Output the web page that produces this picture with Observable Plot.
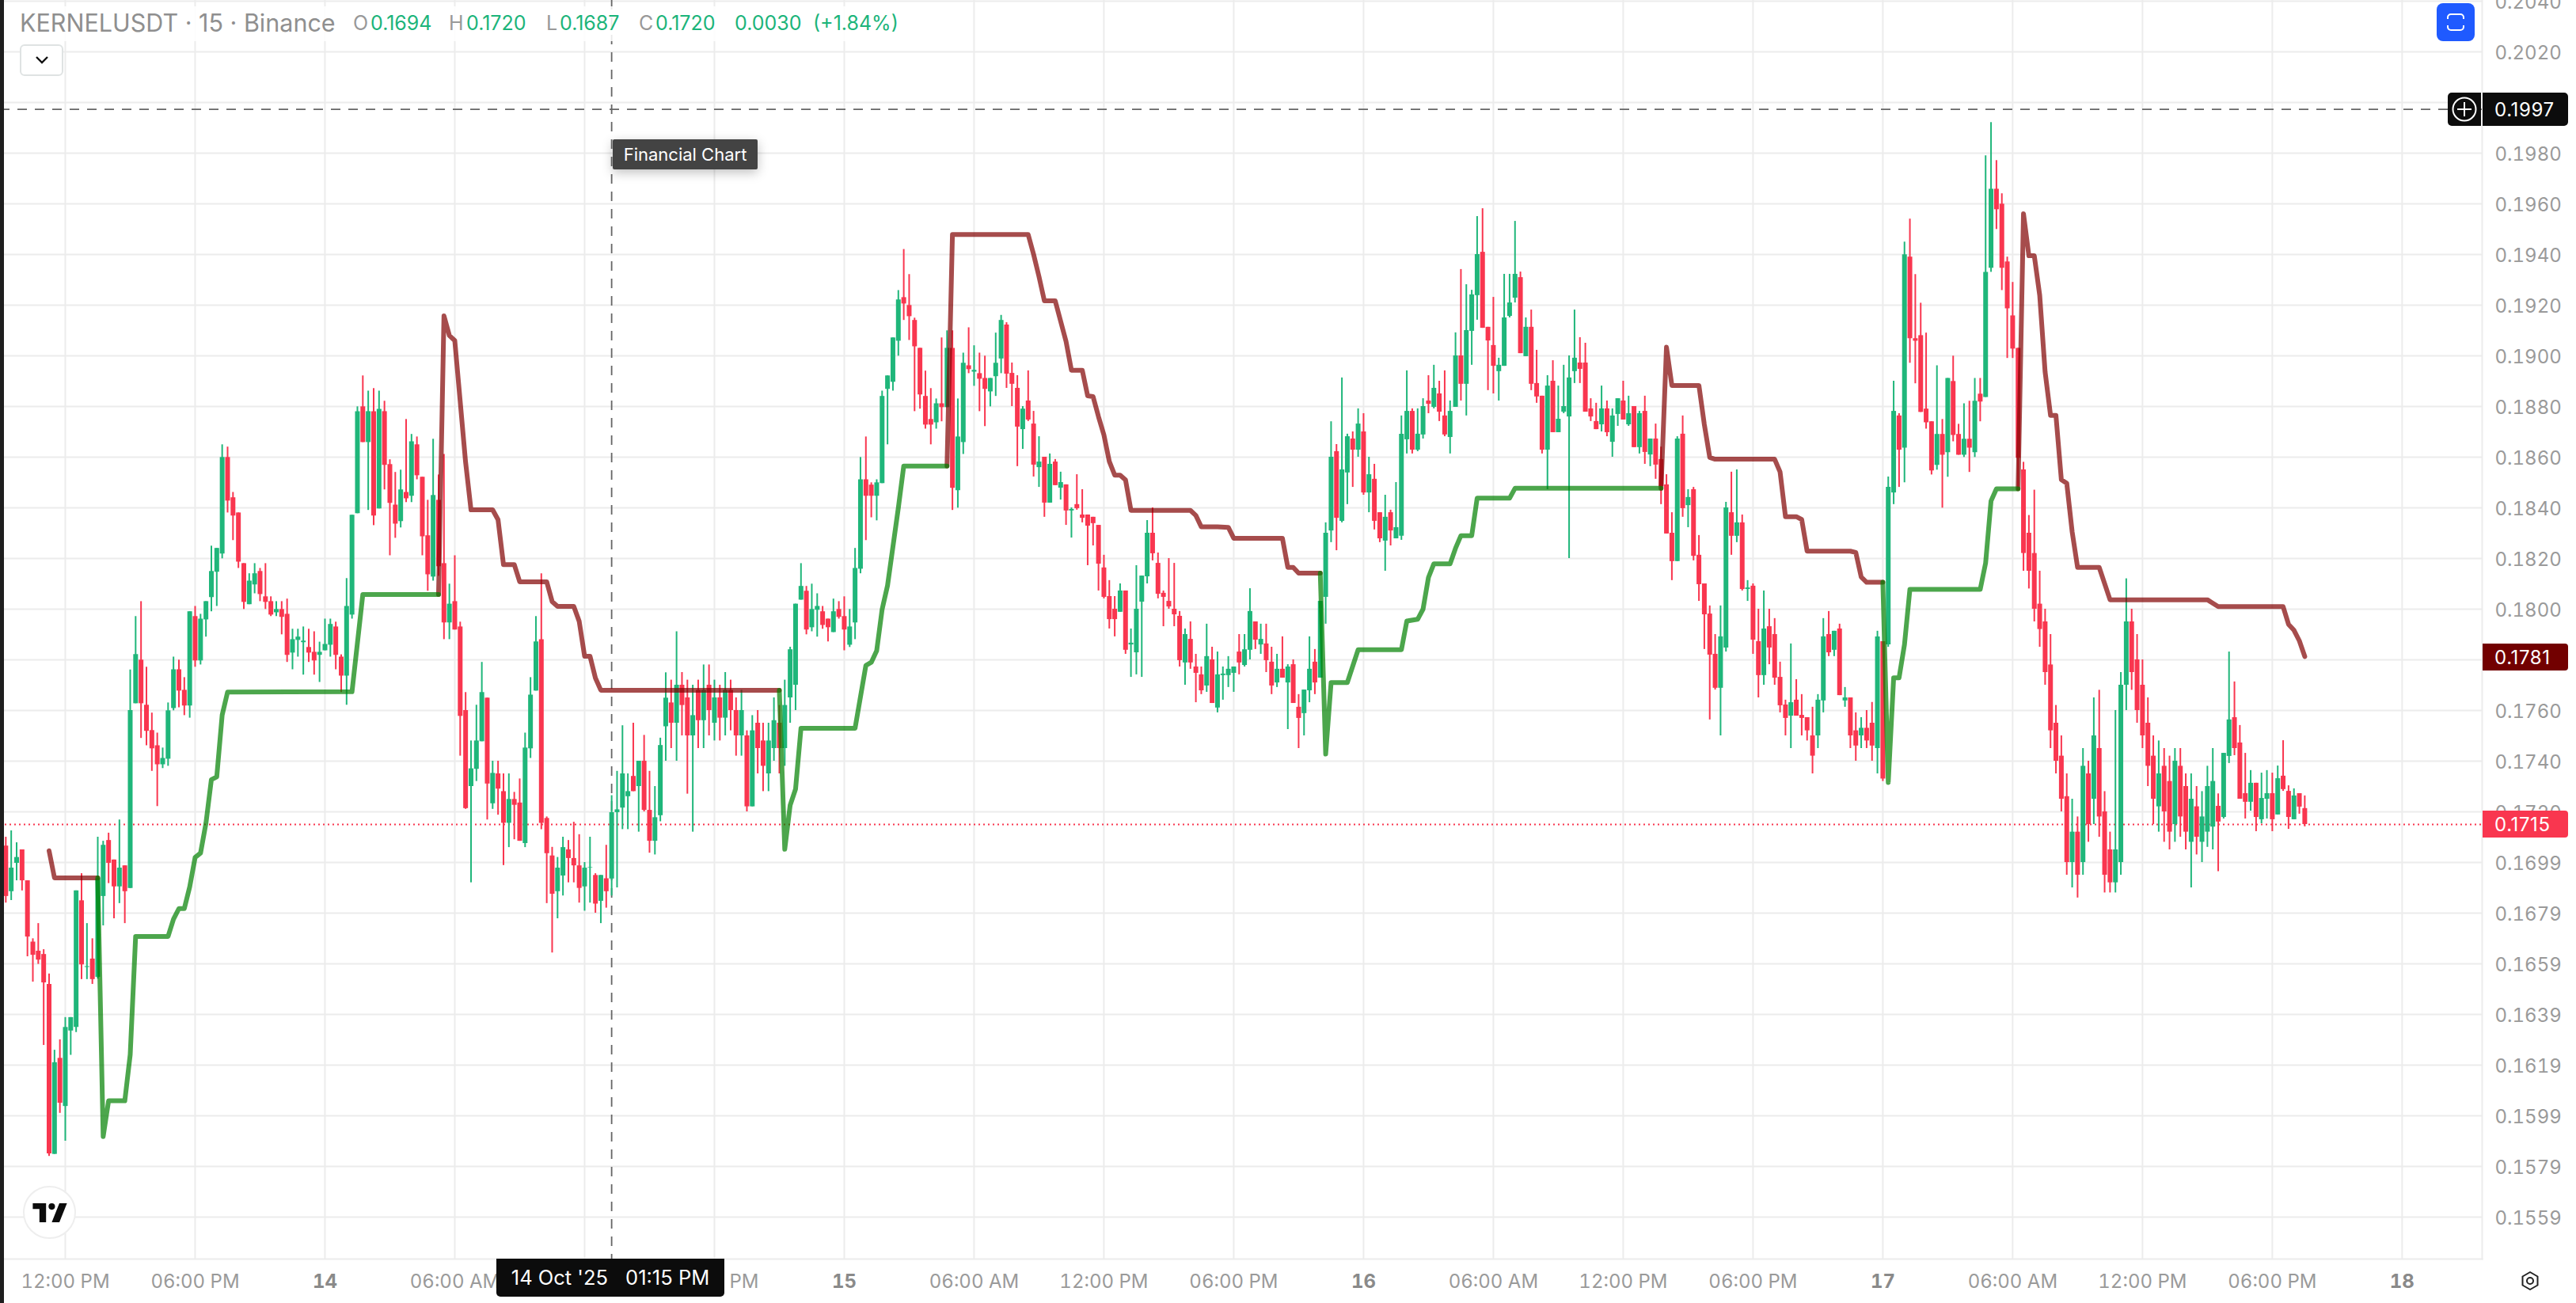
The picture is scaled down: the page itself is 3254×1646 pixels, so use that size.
<!DOCTYPE html>
<html>
<head>
<meta charset="utf-8">
<script src="https://cdn.jsdelivr.net/npm/d3@7"></script>
<script src="https://cdn.jsdelivr.net/npm/@observablehq/plot@0.6"></script>
<style>
html,body{margin:0;padding:0;background:#fff}
#wrap{position:relative;width:3254px;height:1646px;overflow:hidden;font-family:Inter,sans-serif}
#wrap svg{display:block}
.ov{position:absolute;white-space:nowrap;line-height:1}
.tag{position:absolute;color:#fff;font-size:24px;display:flex;align-items:center;letter-spacing:.6px}
</style>
</head>
<body>
<div id="wrap"></div>
<script>
// Prices in units of 0.0001, one entry per 15-minute bar, first bar 13 Oct 2025 09:15
const opens = [
1706.5,1688.5,1699.7,1705,1692.8,1668.6,1665,1663.7,1651.9,1584.8,
1622.7,1603.7,1633.5,1634.9,1684.9,1658.6,1661.9,1654.7,1686.6,1708.7,
1701,1690.4,1698.7,1689.8,1762.7,1779.9,1762.1,1752.1,1746.1,1738.6,
1740.8,1760.8,1776.1,1768,1761.8,1797.1,1779.6,1795.8,1804.6,1814.6,
1821.8,1859.9,1844,1838,1818,1801.8,1809.6,1814.9,1804.9,1803,
1798.6,1799.9,1798,1782.7,1787.7,1786.8,1784.9,1783,1781.8,1783.6,
1785.8,1793,1781.1,1773.6,1797.7,1837.7,1879.9,1865.8,1878,1839.6,
1878,1857.1,1841.1,1834.6,1846.1,1844.6,1864.9,1852.1,1829,1812.7,
1843,1818,1794.6,1803,1793,1760,1730,1736.8,1747.7,1764.9,
1723.2,1735,1728,1715.5,1724.9,1723.5,1707.5,1744.9,1767.7,1788,
1717.4,1702.6,1688.5,1694.7,1705,1701.6,1698.7,1690.4,1697.8,1694.9,
1684.7,1693.6,1693.5,1719.7,1721.5,1726,1734,1730,1740,1720.6,
1708.4,1718.5,1753.6,1763,1755,1770,1765,1750,1768,1756,
1770,1755,1765,1757,1768,1760,1750,1750,1722,1755,
1748,1735,1745,1755,1745,1765,1770,1803.6,1807.1,1792.7,
1799.6,1799,1796.1,1790.8,1799.9,1797.1,1785.8,1794.6,1815.8,1851.1,
1849,1844.6,1849.6,1886.8,1889.6,1905.8,1923,1919.9,1914,1903,
1884,1874.9,1873.6,1881.1,1879.6,1903,1846.8,1865.8,1896.1,1893.6,
1893,1891.1,1885.8,1891.8,1898.8,1912.2,1893.1,1887.2,1870.9,1882.2,
1873.1,1855.9,1860,1841.9,1858.1,1847.8,1849.1,1838.8,1841.3,1837.2,
1837.2,1836.3,1833.1,1816.3,1805,1800,1798.8,1807.2,1785.9,1782.8,
1802.8,1812.8,1830,1818.1,1806.3,1803.1,1800,1797.2,1778.8,1788.1,
1777.2,1774.1,1769.7,1780,1761,1773.8,1773.8,1774.7,1783.1,1777.8,
1783.8,1795,1785.9,1786.3,1779.1,1770.9,1776.3,1770.9,1778.1,1761.3,
1758.8,1767.8,1779.1,1772.8,1804.7,1830.9,1862.2,1834.7,1853.8,1867.2,
1862.8,1870,1845.9,1851.3,1838.1,1826.9,1838.1,1827.8,1828.8,1866.9,
1878.1,1862.8,1868.8,1882.2,1879.7,1885,1876.3,1867.8,1879.7,1900,
1888.8,1909.7,1923.8,1940.9,1911.3,1904.1,1893.8,1895.9,1915.6,1922.8,
1930.9,1899.7,1911.3,1889.1,1884.1,1862.8,1890,1869.7,1877.8,1875.9,
1893.8,1897.2,1897.2,1879.1,1874.1,1872.8,1879.1,1865.9,1876.9,1882.2,
1872.8,1880,1863.8,1878.1,1860.9,1867.2,1859.1,1849.1,1830,1818.8,
1869.1,1840.9,1847.2,1821.3,1810,1798.1,1782.2,1768.8,1784.7,1838.1,
1828.8,1834.1,1807.8,1809.1,1787.2,1773.8,1793.1,1790,1773.1,1762.2,
1757.8,1764.1,1758.1,1757.2,1750,1750,1763.8,1790,1783.8,1792.2,
1763.8,1765,1752,1750,1753,1755,1745,1787.2,1785.9,1845.9,
1876.3,1863.6,1939,1906.8,1908,1879,1874,1856.8,1869,1861.8,
1889.9,1869,1860.8,1867.1,1861.8,1884.9,1883.6,1934.6,1965.8,1959.9,
1937.1,1915.8,1903,1855,1830,1822,1802,1795,1778,1755,
1742,1726,1700,1712,1700,1735,1725,1745,1720,1705,
1692,1700,1770,1795,1780,1770,1755,1742,1722,1738,
1732,1715,1738,1730,1708,1722,1708,1712,1714,1722.2,
1717.8,1741.9,1757.2,1747.2,1727.2,1723.8,1731.3,1716.9,1725,1727.2,
1718.8,1734.1,1728.1,1716.9,1727.2,1721.3];
const highs = [
1710,1712.5,1707.8,1705,1692.8,1669.9,1675.9,1665.6,1656,1625.9,
1630,1638.8,1638.8,1688.8,1695.6,1675.9,1669.9,1710,1708.4,1711.6,
1701,1716.8,1698.7,1776,1797.1,1803,1777.1,1759,1751.1,1745.2,
1763,1781.1,1779.9,1773,1799,1801.1,1798,1803,1824.9,1824,
1864.9,1864,1846.1,1838,1818,1814,1818,1816.1,1818,1804.9,
1803,1803,1804,1792.1,1792.1,1793,1792.1,1791.1,1787,1796.1,
1796.1,1794.9,1782,1812.1,1837.1,1879.9,1892.1,1886.1,1887.1,1886.1,
1882.1,1859,1854,1854.9,1874.9,1869,1868,1852.1,1843,1867.1,
1853,1861.1,1809.9,1821.1,1794.9,1767.1,1748,1762.1,1779,1764.9,
1740,1740,1735,1735,1727.7,1733,1751.1,1773,1797.1,1814,
1718,1706,1702,1710,1708.7,1715.9,1711,1700,1710,1695.6,
1694.9,1706.8,1726.4,1736,1754,1735,1755,1740,1750.2,1736,
1730,1749.1,1774.9,1772,1791.1,1775,1772,1770,1772,1778,
1778,1772,1770,1775,1772,1765,1768,1752,1758,1760,
1755,1755,1765,1762,1772,1785,1802,1818,1809,1809.9,
1806.1,1801.1,1796.1,1804,1803,1804.9,1799.9,1824,1859.9,1868,
1849.9,1851.1,1886.1,1892.1,1907.1,1925.8,1942,1932.1,1914.9,1903,
1894,1887.1,1883,1907.1,1909.9,1909.9,1883,1901.1,1911.1,1904,
1901.1,1899.9,1891.1,1909,1916,1913.1,1897.2,1892.2,1880,1894.1,
1878.1,1868.1,1860,1861.3,1859.1,1854.1,1849.1,1840,1853.1,1847.2,
1837.2,1836.3,1833.1,1821.3,1811.3,1805,1810,1807.2,1792.2,1817.2,
1813.1,1835,1840,1822.2,1807.2,1820,1818.1,1799.1,1792.2,1795,
1782.2,1777.2,1794.1,1785,1783.1,1777.2,1781.3,1777.2,1790,1790,
1808.1,1795,1794.1,1794.1,1785,1782.2,1789.1,1778.1,1780,1766.3,
1768.1,1789.1,1784.1,1803.1,1834.1,1874,1865,1891.3,1869.1,1870,
1879.1,1877.2,1860,1857.2,1838.1,1845,1839.1,1850,1876.3,1894.1,
1879.1,1879.1,1883.1,1892.2,1896.3,1890,1894.1,1882.2,1909.1,1934.1,
1928.1,1925.9,1955,1958.1,1911.3,1923.1,1899.1,1932.2,1932.2,1953.1,
1933.1,1915,1918.1,1902.2,1884.1,1892.2,1898.1,1888.1,1896.3,1900,
1918.1,1907.2,1905,1883.1,1881.3,1888.1,1882.2,1879.1,1883.1,1890,
1884.1,1880,1878.1,1884.1,1867.2,1873.1,1864,1853.1,1838.1,1868.1,
1876.3,1847.2,1848.1,1829.1,1810,1801.3,1790,1801.3,1842.2,1854.1,
1855,1837.2,1811.3,1810,1800,1807.2,1800,1796.3,1779.1,1764.1,
1786.3,1772.2,1766.3,1757.2,1761.3,1766.3,1796.3,1799.1,1791.3,1794.1,
1769.1,1765,1759.1,1757.2,1760,1763.2,1791.3,1787.2,1852.2,1890,
1877.2,1944.9,1954,1932.1,1920.8,1909,1874,1896.1,1874.9,1891.1,
1899.9,1873,1881.1,1882.1,1891.1,1891.1,1979,1992.1,1977.1,1964,
1939,1929,1903,1858,1837,1847,1815,1800,1790,1762,
1750,1735,1725,1718,1745,1740,1765,1768,1728,1712,
1760,1775,1812,1800,1790,1780,1765,1750,1748,1745,
1742,1745,1745,1735,1735,1730,1728,1738,1745,1727.1,
1743.1,1783.1,1771.3,1754.1,1743.1,1736.3,1731.3,1735.3,1736.3,1735.3,
1738.1,1748.1,1730.3,1729.1,1727.2,1726.3];
const lows = [
1684,1685,1692.8,1688.8,1662.8,1652.8,1659.8,1627.8,1584,1584.8,
1601,1590,1623.9,1632.9,1653.8,1653.8,1651.9,1654,1675,1691.7,
1677.8,1683.8,1675.9,1689.8,1762.7,1749,1746.1,1736,1722.1,1737.1,
1738,1759.9,1761.1,1758,1757,1777.1,1778,1789,1799,1801.1,
1819.9,1838,1827.1,1816.1,1799.9,1801.8,1806.1,1803,1799.9,1797.1,
1797.1,1789.9,1779,1776.1,1781.1,1774,1779,1774,1771.1,1783.6,
1781.1,1776.1,1767.1,1762.1,1796.1,1837.7,1865.8,1839,1833,1839.6,
1847.1,1821.1,1828,1832.1,1842.1,1842.1,1851.1,1821.1,1807.1,1811.1,
1813,1788,1788,1791.8,1742,1721,1692,1732,1747.7,1716.8,
1721,1718.7,1698.8,1705.9,1709,1708.4,1705.9,1741.1,1767.7,1713,
1683.8,1664.3,1677.8,1686.8,1692,1692,1684,1680.8,1684,1680,
1675.9,1682,1686.8,1690,1713,1713,1728,1712,1720,1703.7,
1703,1716.1,1740,1745,1740,1750,1727,1712,1745,1745,
1750,1748,1748,1750,1752,1742,1742,1720,1722,1735,
1728,1728,1740,1735,1738,1755,1760,1803.6,1789.9,1791.1,
1789,1792.1,1787.1,1790.8,1796.1,1783.6,1784.9,1788,1814,1827.1,
1836.1,1834.9,1849.6,1864.9,1886.1,1899.9,1914,1906.1,1878,1879,
1871.1,1864.9,1871.1,1874,1879.6,1839,1839.9,1861.1,1893,1888,
1878,1872.1,1879.9,1884,1893,1887.2,1880,1856.3,1863.1,1874.1,
1852.2,1848.1,1836.3,1841.9,1848.8,1843.1,1833.1,1828.1,1839.1,1834.1,
1817.2,1825,1807.2,1804.1,1792.2,1789.1,1798.8,1782.2,1773.1,1774.1,
1773.1,1810,1819.1,1804.1,1793.1,1800,1793.1,1777.2,1770,1776.3,
1763.1,1766.3,1767.2,1762.8,1759.1,1764.1,1769.1,1767.2,1774.1,1777.2,
1780,1784.1,1782.2,1775,1766.3,1769.1,1772.8,1752.5,1762.8,1745,
1750,1763.1,1766.3,1772.8,1794.1,1826.3,1823.1,1834.1,1841.3,1848.1,
1860,1845,1838.1,1831.3,1826.3,1815,1825,1827.8,1827.2,1861.3,
1861.3,1862.2,1867.2,1877.2,1879.1,1874.1,1868.1,1861.3,1879.7,1882.2,
1876.3,1896.3,1914.1,1910.9,1886.3,1885,1882.2,1895.9,1915,1920.9,
1900.9,1899.7,1886.3,1881.3,1861.3,1847.2,1869.7,1869.7,1877.2,1820,
1889.1,1889.1,1877.8,1874.1,1870.9,1870,1868.1,1860,1872.2,1874.7,
1872.2,1863.8,1861.3,1857.2,1856.3,1851.3,1841.3,1829.7,1811.3,1818.8,
1836.3,1832.2,1819.1,1803.1,1784.1,1756.3,1768.1,1750,1783.1,1821.3,
1826.3,1807.2,1803.1,1782.2,1765,1770,1778.1,1770,1759.1,1750,
1745,1757.8,1750,1748,1735,1745,1759.1,1781.3,1781.3,1765.9,
1761.3,1745,1740,1745,1745,1740,1735,1732,1785,1841.3,
1848.1,1849.9,1897.1,1889,1877.7,1871.1,1853,1854.9,1839.9,1852.1,
1866.1,1860.8,1859.9,1854,1859.9,1874,1883.6,1933,1949.9,1925.8,
1899,1899,1846.8,1815,1808,1795,1785,1770,1745,1735,
1720,1695,1690,1686,1695,1708,1715,1710,1688,1688,
1688,1695,1760,1768,1755,1745,1730,1715,1712,1708,
1705,1708,1710,1705,1690,1703,1700,1706,1705,1696.4,
1717.2,1739.1,1742.2,1725,1717.2,1720.3,1712.2,1715.3,1717.2,1712.2,
1718.8,1728.1,1713.1,1716.9,1719.1,1714.1];
const closes = [
1686.6,1697.8,1702,1692.8,1670.6,1663.4,1661.5,1652.5,1585,1621,
1605,1634.9,1638.8,1688.8,1659.6,1658.9,1653.8,1693.6,1706.8,1699.7,
1690.4,1697.8,1688.5,1760,1782.1,1762.7,1751.8,1744.9,1738.6,1741.1,
1759.9,1776.1,1767.7,1761.8,1799,1779.6,1796.1,1803,1814.9,1824,
1859.9,1842.7,1836.8,1818.6,1802.7,1811.1,1814,1805.8,1802.7,1797.7,
1799.9,1796.8,1781.8,1788,1789,1787.4,1782.7,1779.6,1783,1786.1,
1794,1781.8,1773.6,1801.1,1837.1,1878,1865.8,1878,1836.8,1878.9,
1856.8,1841.8,1833.6,1847.1,1843.6,1866.1,1852.7,1828.6,1813.6,1844.9,
1816.8,1794.6,1802,1791.8,1757.7,1721.3,1737,1748,1767.1,1731,
1735.2,1729,1715.5,1724.9,1722.6,1708.4,1745.2,1766.1,1787.1,1715.5,
1703.5,1687.5,1697.8,1705.9,1701.6,1698.7,1689.8,1697.8,1698,1683.6,
1694.9,1688.5,1719.7,1720.8,1735,1728,1728,1740,1720.6,1708.4,
1717.7,1746.2,1764.9,1755,1770,1762,1750,1758,1756,1768,
1760,1765,1757,1768,1760,1750,1760,1722,1752,1745,
1738,1748,1756,1745,1762,1784,1802,1809,1791.8,1799.9,
1801.1,1793.6,1792.7,1799,1796.8,1791.8,1793,1816.1,1851.1,1844.6,
1844.6,1849.9,1884,1892.1,1907.1,1922.1,1920.5,1915.5,1903.6,1884.6,
1872.7,1872.7,1881.1,1879.6,1903,1847.7,1868,1897.1,1894.6,1894.3,
1890.8,1886.8,1891.1,1897.1,1914,1892.8,1888.8,1871.9,1879,1874.7,
1856.9,1858.1,1841.9,1857.2,1848.8,1850,1838.8,1839.4,1839.7,1835.9,
1832.8,1833.8,1817.8,1804.7,1795.9,1795.9,1807.2,1783.8,1786.6,1800,
1813.1,1830,1821.9,1805.9,1804.7,1800.9,1797.8,1779.7,1790,1778.8,
1774.7,1767.8,1781.3,1762.8,1774.1,1774.4,1776.3,1777.2,1778.8,1784,
1799.1,1787.8,1788.1,1779.7,1769.7,1776.3,1772.8,1777.2,1762.8,1756.9,
1768.1,1776.3,1770.9,1803.1,1830,1860,1835.9,1855,1868.1,1862.8,
1873.1,1845.9,1853.1,1834.7,1827.8,1836.3,1830.9,1832.2,1869.1,1878.1,
1862.8,1869.1,1880,1880.9,1887.2,1877.8,1868.8,1878.1,1900,1888.8,
1910,1924.1,1940,1910.9,1905.9,1895.9,1896.3,1915,1920.9,1932.2,
1900.9,1911.3,1888.8,1883.8,1862.8,1888.1,1869.7,1875,1880,1891.3,
1899.1,1894.7,1877.8,1875.9,1870.9,1879.1,1869.7,1876.3,1883.1,1874.7,
1877.2,1863.8,1877.2,1861.9,1867.2,1856.9,1848.4,1829.7,1818.8,1867.2,
1839.7,1844.1,1820.9,1809.7,1797.8,1781.9,1768.8,1789.1,1840,1828.8,
1834.1,1807.8,1808.4,1787.8,1773.8,1792.2,1784.7,1772.8,1761.9,1756.9,
1763.1,1757.8,1756.9,1752,1742,1764.1,1789.1,1782.8,1791.3,1765.9,
1765,1750,1746,1753,1748,1746,1789.1,1733,1848.1,1878.1,
1862.8,1939.9,1906.8,1905.8,1877.7,1873.6,1854.6,1869,1860.8,1891.1,
1868.6,1860.8,1867.1,1863.6,1882.1,1881.8,1933,1965.8,1957.7,1934.6,
1918.6,1902.7,1859.6,1822,1815,1800,1792,1775,1752,1740,
1725,1700,1712,1695,1738,1715,1750,1718,1695,1692,
1705,1770,1795,1775,1760,1750,1738,1725,1735,1720,
1712,1740,1718,1712,1725,1710,1718,1730,1732,1716,
1743.1,1756.3,1745,1725,1723.8,1731.3,1717.8,1725.3,1727.2,1716.9,
1733.1,1728.8,1717.8,1726.3,1721.9,1715];

// Indicator vertices (bar number, price); null separates legs
const resistBars = [8,9,17,null,
80,81,82,83,84,85,86,90,91,92,94,95,100,101,102,105,106,107,108,109,110,143,null,
174,175,189,190,191,192,194,196,197,199,200,201,202,203,204,205,206,207,208,219,220,221,224,226,227,236,237,238,239,243,null,
306,307,308,313,314,315,316,327,328,329,331,332,333,341,342,343,344,347,null,
372,373,374,375,376,377,378,379,380,381,382,383,387,389,407,409,421,422,423,424,425];
const resistVals = [1704.6,1693.9,1693.9,null,
1805.8,1915.8,1908,1906,1882,1858,1839.2,1839.2,1835.3,1817.6,1817.6,1810.8,1810.8,1803,1801.1,1801.1,1795.2,1781.4,1781.4,1772.8,1768,1768,null,
1856.5,1947.9,1947.9,1940.1,1931.3,1921.7,1921.7,1905.7,1894.3,1894.3,1884.2,1883.9,1876,1868.8,1858.3,1852.9,1852.9,1851,1839,1839,1837,1832.5,1832.5,1832.3,1828,1828,1816.5,1816.5,1814.2,1814.2,null,
1847.7,1903.4,1888.3,1888.3,1872.9,1859.9,1859.2,1859.2,1854.2,1836.5,1836.5,1835.4,1822.9,1822.9,1822.4,1812.7,1810.6,1810.6,null,
1847.5,1956.1,1939.5,1939.5,1923.9,1893.6,1876.5,1876.5,1851.1,1849.7,1830.5,1816.5,1816.5,1803.7,1803.7,1801,1801,1794,1791.7,1787.5,1781.3];
const supportBars = [17,18,19,22,23,24,30,31,32,33,34,35,36,37,38,39,40,41,64,66,80,null,
143,144,145,146,147,157,159,160,161,162,163,165,166,174,null,
243,244,245,248,250,258,259,261,262,263,264,267,268,269,271,272,278,279,306,null,
347,348,349,350,351,352,365,366,367,368,372];
const supportVals = [1693.9,1591.8,1605.9,1605.9,1624.2,1670.8,1670.8,1677.6,1681.8,1681.8,1690.4,1702,1703.7,1715.5,1732.7,1733.8,1758.2,1767.3,1767.4,1805.8,1805.8,null,
1768,1705.2,1722.6,1729,1753,1753,1777.8,1779,1783.6,1799.9,1809.3,1840,1856.5,1856.5,null,
1814.2,1742.8,1771,1771,1784,1784,1795.3,1796,1800,1812.5,1817.9,1817.9,1824,1829,1829,1843.8,1843.8,1847.7,1847.7,null,
1810.6,1731.6,1772.9,1772.9,1786,1807.8,1807.8,1818.2,1842.7,1847.5,1847.5];

// Axis ticks
const priceTicks = [2040,2020,2000,1980,1960,1940,1920,1900,1880,1860,1840,1820,1800,1780,1760,1740,1720,1700,1680,1660,1640,1620,1600,1580,1560];
const priceLabels = ["0.2040","0.2020","0.2000","0.1980","0.1960","0.1940","0.1920","0.1900","0.1880","0.1860","0.1840","0.1820","0.1800","0.1780","0.1760","0.1740","0.1720","0.1699","0.1679","0.1659","0.1639","0.1619","0.1599","0.1579","0.1559"];
priceLabels[2] = ""; // hidden behind the crosshair price tag
const hourTimes = ["2025-10-13T12:00Z","2025-10-13T18:00Z","2025-10-14T06:00Z","2025-10-14T12:00Z","2025-10-14T18:00Z","2025-10-15T06:00Z","2025-10-15T12:00Z","2025-10-15T18:00Z","2025-10-16T06:00Z","2025-10-16T12:00Z","2025-10-16T18:00Z","2025-10-17T06:00Z","2025-10-17T12:00Z","2025-10-17T18:00Z"];
const hourLabels = ["12:00 PM","06:00 PM","06:00 AM","12:00 PM","06:00 PM","06:00 AM","12:00 PM","06:00 PM","06:00 AM","12:00 PM","06:00 PM","06:00 AM","12:00 PM","06:00 PM"];
const dayTimes = ["2025-10-14T00:00Z","2025-10-15T00:00Z","2025-10-16T00:00Z","2025-10-17T00:00Z","2025-10-18T00:00Z"];
const dayLabels = ["14","15","16","17","18"];

const firstBar = Date.UTC(2025,9,13,9,15);
const barTime = i => new Date(firstBar + i*15*60000);
const price = v => v == null ? null : v/10000;
const UP = "#1FB67A", DOWN = "#F9364F";

const bars = opens.map((o,i)=>({t:barTime(i),o:price(o),h:price(highs[i]),l:price(lows[i]),c:price(closes[i])}));
const leg = (xs,ys)=>xs.map((b,i)=>({t:b==null?null:barTime(b),v:price(ys[i])}));
const resist = leg(resistBars,resistVals), support = leg(supportBars,supportVals);
const allHours = hourTimes.map(d=>new Date(d)), allDays = dayTimes.map(d=>new Date(d));
const hourFmt = new Map(allHours.map((d,i)=>[+d,hourLabels[i]]));
const dayFmt = new Map(allDays.map((d,i)=>[+d,dayLabels[i]]));
const pTicks = priceTicks.map(price);
const pFmt = new Map(pTicks.map((d,i)=>[d,priceLabels[i]]));
const candleColor = d => d.c >= d.o ? UP : DOWN;
const gridStyle = {stroke:"#ECECEC",strokeOpacity:1,strokeWidth:2};
const crossStyle = {stroke:"#666",strokeWidth:1.8,strokeDasharray:"12,10"};

const chart = Plot.plot({
  width:3254,height:1646,
  marginLeft:0,marginRight:119,marginTop:0,marginBottom:56,
  style:{fontFamily:"Inter, sans-serif",background:"transparent"},
  x:{type:"utc",domain:[new Date("2025-10-13T09:00Z"),new Date("2025-10-18T03:42Z")],axis:null},
  y:{type:"linear",domain:[0.1543438,0.204031],axis:null},
  marks:[
    Plot.gridX([...allHours,...allDays],gridStyle),
    Plot.gridY(pTicks,gridStyle),
    Plot.frame({anchor:"right",stroke:"#ECECEC",strokeWidth:2}),
    Plot.frame({anchor:"bottom",stroke:"#ECECEC",strokeWidth:2}),
    Plot.axisY({anchor:"right",ticks:pTicks,tickFormat:d=>pFmt.get(d),tickSize:0,tickPadding:16,fontSize:24,fill:"#9a9a9a",label:null,fontVariant:"tabular-nums",dy:2}),
    Plot.axisX({anchor:"bottom",ticks:allHours,tickFormat:d=>hourFmt.get(+d),tickSize:0,tickPadding:19,fontSize:24,fill:"#9a9a9a",label:null}),
    Plot.axisX({anchor:"bottom",ticks:allDays,tickFormat:d=>dayFmt.get(+d),tickSize:0,tickPadding:19,fontSize:24,fontWeight:700,fill:"#8a8a8a",label:null}),
    Plot.ruleY([0.1715],{stroke:DOWN,strokeWidth:2,strokeDasharray:"2,4"}),
    Plot.ruleX([new Date("2025-10-14T13:15Z")],crossStyle),
    Plot.ruleY([0.19973],crossStyle),
    Plot.ruleX(bars,{x:"t",y1:"l",y2:"h",stroke:candleColor,strokeWidth:2}),
    Plot.ruleX(bars,{x:"t",y1:"o",y2:"c",stroke:candleColor,strokeWidth:6}),
    Plot.line(resist,{x:"t",y:"v",stroke:"#800000",strokeOpacity:0.7,strokeWidth:6,strokeLinejoin:"round",strokeLinecap:"round",curve:"linear"}),
    Plot.line(support,{x:"t",y:"v",stroke:"#008000",strokeOpacity:0.7,strokeWidth:6,strokeLinejoin:"round",strokeLinecap:"round",curve:"linear"})
  ]
});
const wrap = document.getElementById("wrap");
wrap.appendChild(chart);

function ov(html,css,cls="ov"){const d=document.createElement("div");d.className=cls;d.style.cssText=css;d.innerHTML=html;wrap.appendChild(d);return d;}

// left edge
ov("","left:0;top:0;width:5px;height:1646px;background:#1e1e1e");
// legend strip
ov("","left:20px;top:8px;width:1124px;height:44px;background:rgba(255,255,255,.86)");
const G="#1BB47A",N="#999";
ov("KERNELUSDT · 15 · Binance",`left:25px;top:14px;font-size:30.5px;color:#8f8f8f`);
[["O",446,N],["0.1694",468,G],["H",567,N],["0.1720",589,G],["L",690,N],["0.1687",707,G],["C",807,N],["0.1720",828,G],["0.0030",928,G],["(+1.84%)",1027,G]]
 .forEach(([t,x,c])=>ov(t,`left:${x}px;top:17px;font-size:25px;color:${c}`));
// dropdown
ov('<svg width="22" height="14" viewBox="0 0 22 14"><path d="M4 3l7 7 7-7" fill="none" stroke="#111" stroke-width="2.4"/></svg>',
  "left:25px;top:56px;width:55px;height:40px;background:#fff;border:2px solid #dfe3e3;border-radius:6px;box-sizing:border-box;display:flex;align-items:center;justify-content:center");
// tooltip
ov("Financial Chart","left:774px;top:176px;width:183px;height:38px;background:#434343;color:#fff;font-size:22px;display:flex;align-items:center;justify-content:center;box-shadow:0 4px 14px rgba(0,0,0,.25);border-radius:2px");
// blue button
ov('<svg width="24" height="24" viewBox="0 0 24 24" fill="none" stroke="#fff" stroke-width="2"><path d="M2 8V6a4 4 0 0 1 4-4h12a4 4 0 0 1 4 4v2M2 16v2a4 4 0 0 0 4 4h12a4 4 0 0 0 4-4v-2"/></svg>',
  "left:3078px;top:4px;width:48px;height:48px;background:#1F5AFF;border-radius:8px;display:flex;align-items:center;justify-content:center");
// price tags
ov('<svg width="32" height="32" viewBox="0 0 32 32" fill="none" stroke="#fff" stroke-width="2"><circle cx="16" cy="16" r="14.5"/><path d="M16 7v18M7 16h18"/></svg>',
  "left:3092px;top:117px;width:42px;height:42px;background:#0c0c0c;border-radius:5px 0 0 5px;display:flex;align-items:center;justify-content:center");
ov("0.1997","left:3136px;top:117px;width:108px;height:42px;background:#0c0c0c;padding-left:15px;box-sizing:border-box;border-radius:0 5px 5px 0","tag");
ov("0.1781","left:3136px;top:813px;width:108px;height:34px;background:#720000;padding-left:15px;box-sizing:border-box;border-radius:0 4px 4px 0","tag");
ov("0.1715","left:3136px;top:1024px;width:108px;height:34px;background:#F9364F;padding-left:15px;box-sizing:border-box;border-radius:0 4px 4px 0","tag");
// crosshair time tag
ov("14 Oct '25<span style=\"margin-left:22px\">01:15 PM</span>","left:627px;top:1590px;width:288px;height:48px;background:#0c0c0c;color:#fff;font-size:25.5px;display:flex;align-items:center;justify-content:center;border-radius:0 0 5px 5px");
// logo
ov('<svg width="44" height="24" viewBox="0 0 36 20"><path d="M14 0H0v6h7v14h7zM28 20h-8l8-20h8z" fill="#0c0c0c"/><circle cx="20" cy="3.4" r="3.4" fill="#0c0c0c"/></svg>',
  "left:29px;top:1498px;width:67px;height:67px;background:#fff;border:2.5px solid #eee;border-radius:50%;box-sizing:border-box;display:flex;align-items:center;justify-content:center");
// settings
ov('<svg width="28" height="28" viewBox="0 0 28 28" fill="none" stroke="#222" stroke-width="2"><path d="M14 3l9.5 5.5v11L14 25l-9.5-5.5v-11z" stroke-linejoin="round"/><circle cx="14" cy="14" r="4"/></svg>',
  "left:3182px;top:1604px;width:28px;height:28px");
</script>
</body>
</html>
